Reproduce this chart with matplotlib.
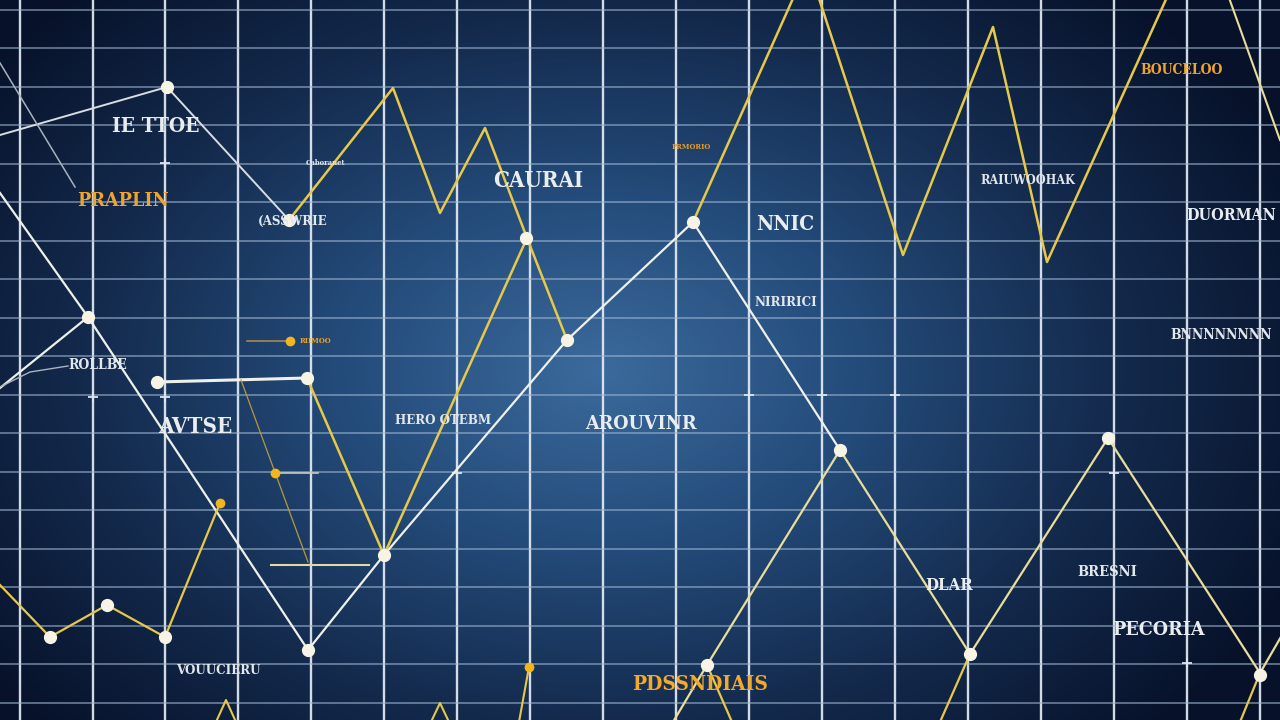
import numpy as np
import matplotlib.pyplot as plt
from matplotlib.colors import LinearSegmentedColormap

# ---------------- data (pixel space) ----------------
grid_x = [20, 93, 165, 238, 311, 384, 457, 530, 603, 676, 749, 822, 895, 968, 1041, 1114, 1187, 1260]
grid_y = [9.5 + 38.5 * k for k in range(19)]

white_a_x = [0, 167, 289]
white_a_y = [135, 87, 220]
white_b_x = [0, 88, 308, 384, 567, 693, 840]
white_b_y = [193, 317, 650, 555, 340, 222, 450]
white_c_x = [0, 88]
white_c_y = [388, 317]
white_d_x = [157, 307]
white_d_y = [382, 378]
white_e_x = [1228, 1280]
white_e_y = [-5, 140]
gray_x = [0, 75]
gray_y = [63, 187]
gray2_x = [0, 30, 68]
gray2_y = [387, 372, 366]

pale_x = [673, 707, 840, 970, 1108, 1260, 1285]
pale_y = [722, 665, 450, 654, 438, 673, 630]
pale_b1_x, pale_b1_y = [707, 732], [665, 722]
pale_b2_x, pale_b2_y = [970, 940], [654, 722]
pale_b3_x, pale_b3_y = [1260, 1240], [673, 722]

yel_1_x = [289, 393, 440, 485, 527, 567]
yel_1_y = [220, 88, 213, 128, 238, 340]
yel_2_x = [307, 384, 527]
yel_2_y = [378, 555, 238]
yel_top_x = [693, 808, 903, 993, 1047, 1168]
yel_top_y = [222, -35, 255, 27, 262, -5]
yel_3_x = [0, 50, 107, 165, 220]
yel_3_y = [585, 637, 605, 637, 503]
yel_pk1_x, yel_pk1_y = [216, 226, 236], [722, 700, 722]
yel_pk2_x, yel_pk2_y = [431, 440, 449], [722, 703, 722]
yel_stem_x, yel_stem_y = [519, 529], [722, 667]
dim_x, dim_y = [241, 308], [380, 562]
dim_h_x, dim_h_y = [271, 369], [565, 565]
dim_s1_x, dim_s1_y = [247, 290], [341, 341]
dim_s2_x, dim_s2_y = [275, 318], [473, 473]

big_pts_x = [167, 289, 88, 157, 307, 384, 308, 526, 567, 693, 840, 707, 970, 1108, 1260, 50, 107, 165]
big_pts_y = [87, 220, 317, 382, 378, 555, 650, 238, 340, 222, 450, 665, 654, 438, 675, 637, 605, 637]
gold_pts_x = [290, 275, 529, 220]
gold_pts_y = [341, 473, 667, 503]

# small cross ticks sitting on the grid
tick_x = [165, 93, 165, 749, 822, 895, 1114, 457, 1187]
tick_y = [163, 397, 397, 395, 395, 395, 473, 473, 663]

labels_white = ["IE TTOE", "CAURAI", "NNIC", "DUORMAN", "AVTSE", "AROUVINR", "PECORIA", "DLAR"]
labels_small = ["(ASSWRIE", "Caboranet", "RAIUWOOHAK", "NIRIRICI", "BNNNNNNNN", "ROLLBE",
                "HERO OTEBM", "BRESNI", "VOUUCIERU"]
labels_gold = ["PRAPLIN", "BOUCELOO", "PDSSNDIAIS", "PRMORIO", "RIIMOO"]

# ---------------- figure ----------------
fig = plt.figure(figsize=(12.8, 7.2), dpi=100)
ax = fig.add_axes([0, 0, 1, 1])
ax.set_xlim(0, 1280)
ax.set_ylim(720, 0)

# background glow
yy, xx = np.mgrid[0:720, 0:1280]
r = np.sqrt(((xx - 600) / 760.0) ** 2 + ((yy - 370) / 520.0) ** 2)
bg = LinearSegmentedColormap.from_list("bg", ["#3b6a9c", "#244c7b", "#142b4e", "#07122a"])
ax.imshow(np.clip(r, 0, 1), cmap=bg, extent=[0, 1280, 720, 0], aspect="auto", zorder=0)

ax.set_xticks(grid_x)
ax.set_yticks(grid_y)
ax.tick_params(length=0, labelbottom=False, labelleft=False)
ax.xaxis.grid(True, color="#e4ecf4", lw=1.7, alpha=0.92, zorder=1)
ax.yaxis.grid(True, color="#9fb6d2", lw=1.1, alpha=0.7, zorder=1)
for s in ax.spines.values():
    s.set_visible(False)

W = "#eef0ea"
Y = "#e6c84a"
P = "#e8dd9a"

ax.plot(tick_x, tick_y, "+", ms=7, mew=1.3, color="#dfe6ee", zorder=2)

ax.plot(white_a_x, white_a_y, color="#d8dde2", lw=1.4, zorder=3)
ax.plot(white_b_x, white_b_y, color=W, lw=1.6, zorder=3)
ax.plot(white_c_x, white_c_y, color=W, lw=1.6, zorder=3)
ax.plot(white_d_x, white_d_y, color=W, lw=2.2, zorder=3)
ax.plot(white_e_x, white_e_y, color=P, lw=1.5, zorder=3)
ax.plot(gray_x, gray_y, color="#a9b3bd", lw=1.1, zorder=3)
ax.plot(gray2_x, gray2_y, color="#a9b3bd", lw=1.0, zorder=3)

ax.plot(pale_x, pale_y, color=P, lw=1.6, zorder=3)
for bx, by in [(pale_b1_x, pale_b1_y), (pale_b2_x, pale_b2_y), (pale_b3_x, pale_b3_y)]:
    ax.plot(bx, by, color=Y, lw=1.6, zorder=3)

ax.plot(yel_1_x, yel_1_y, color=Y, lw=1.8, zorder=3)
ax.plot(yel_2_x, yel_2_y, color=Y, lw=1.8, zorder=3)
ax.plot(yel_top_x, yel_top_y, color=Y, lw=1.8, zorder=3)
ax.plot(yel_3_x, yel_3_y, color=Y, lw=1.6, zorder=3)
for bx, by in [(yel_pk1_x, yel_pk1_y), (yel_pk2_x, yel_pk2_y), (yel_stem_x, yel_stem_y)]:
    ax.plot(bx, by, color=Y, lw=1.5, zorder=3)
ax.plot(dim_x, dim_y, color="#b59a3c", lw=0.9, zorder=3)
ax.plot(dim_h_x, dim_h_y, color="#e2d8a6", lw=1.5, zorder=3)
ax.plot(dim_s1_x, dim_s1_y, color="#a58c44", lw=1.2, zorder=3)
ax.plot(dim_s2_x, dim_s2_y, color="#c9ccc0", lw=1.2, zorder=3)

ax.plot(big_pts_x, big_pts_y, "o", ms=8.5, color="#f7f4e6", mec="#f7f4e6", zorder=5)
ax.plot(gold_pts_x, gold_pts_y, "o", ms=6, color="#f2b51e", mec="#f2b51e", zorder=5)

fam = ["DejaVu Serif", "Liberation Serif"]
txt = dict(family=fam, fontweight="bold", fontstretch="condensed", va="center", zorder=6)

wpos = [(112, 126, 15), (493, 181, 16), (756, 224, 15), (1186, 216, 11.5),
        (158, 427, 16), (585, 424, 14), (1112, 630, 14), (925, 585, 12)]
for s, (x, y, fs) in zip(labels_white, wpos):
    ax.text(x, y, s, color="#e9edf0", fontsize=fs, **txt)

spos = [(258, 221, 9.5), (306, 163, 5.5), (980, 180, 9), (754, 303, 9.5), (1170, 335, 10),
        (68, 365, 10), (395, 420, 9.5), (1077, 572, 10.5), (176, 671, 9.5)]
for s, (x, y, fs) in zip(labels_small, spos):
    ax.text(x, y, s, color="#e2e7ec", fontsize=fs, **txt)

gpos = [(77, 201, 14, "#f0a42a"), (1140, 70, 10, "#f0a42a"), (632, 684, 15, "#f5a928"),
        (672, 147, 5.5, "#e89a2a"), (300, 341, 5.5, "#e8a22a")]
for s, (x, y, fs, c) in zip(labels_gold, gpos):
    ax.text(x, y, s, color=c, fontsize=fs, **txt)

plt.savefig("out.png", dpi=100)
